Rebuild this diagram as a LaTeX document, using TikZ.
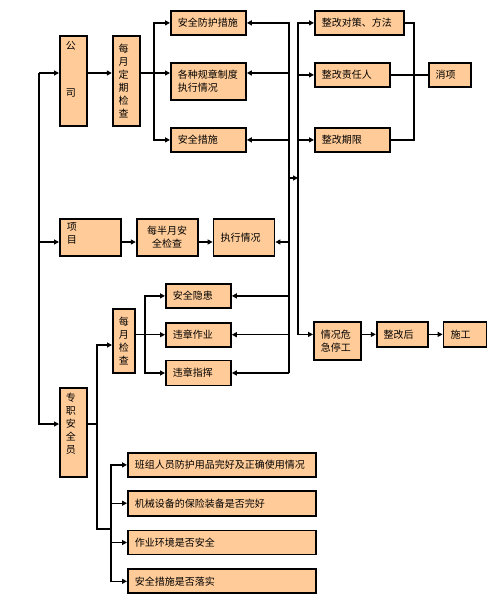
\documentclass[tikz,border=0pt]{standalone}
\usepackage{fontspec}
\usetikzlibrary{positioning,arrows.meta}
\newfontfamily\cjk{Noto Sans CJK SC}
\definecolor{peach}{HTML}{FFCC99}
\definecolor{ink}{HTML}{000000}
\newcommand{\zt}{\cjk\fontsize{10pt}{13pt}\selectfont}
\tikzset{
  box/.style={draw=ink, line width=1.8pt, fill=peach, anchor=north west,
    align=left, inner xsep=7pt, inner ysep=2pt, text=ink},
  col/.style={box, inner xsep=6pt},   % 竖排的框
  arr/.style={-{Triangle[length=5pt,width=5pt]}, line width=1.2pt, color=ink},
  ln/.style={line width=1.2pt, color=ink},
}

\begin{document}
\begin{tikzpicture}[x=1pt, y=-1pt, font=\zt]
  \useasboundingbox (0,0) rectangle (501,611);
  % 公司
  \node[col, text width=15pt, minimum height=90pt] (gs) at (59,35) {公\\[34pt]司\\[10pt]\mbox{}};
  \node[col, text width=15pt, minimum height=90pt, right=24pt of gs] (yd) {每\\月\\定\\期\\检\\查};
  \node[box, text width=61pt, minimum height=24pt] (fh) at (170,10) {安全防护措施};
  \node[box, text width=61pt, minimum height=37pt] (gz) at (170,62) {各种规章制度\\执行情况};
  \node[box, text width=61pt, minimum height=24pt] (cs) at (170,127) {安全措施};
  \node[box, text width=75pt, minimum height=24pt] (dc) at (314,10) {整改对策、方法};
  \node[box, text width=61pt, minimum height=24pt] (zr) at (314,62) {整改责任人};
  \node[box, text width=61pt, minimum height=24pt] (qx) at (314,127) {整改期限};
  \node[box, text width=28pt, minimum height=24pt, right=37pt of zr] (xx) {消项};
  % 项目
  \node[box, text width=47pt, minimum height=37pt] (xm) at (59,218) {项\\目\\[-5pt]\mbox{}};
  \node[box, text width=47pt, minimum height=37pt, align=center, right=14pt of xm] (bj) {每半月安\\全检查};
  \node[box, text width=47pt, minimum height=37pt, right=14pt of bj] (zx) {执行情况};
  % 专职安全员
  \node[col, text width=10pt, minimum height=64pt, align=center] (yj) at (112,308) {每\\月\\检\\查};
  \node[box, text width=51pt, minimum height=24pt] (yh) at (165,283) {安全隐患};
  \node[box, text width=51pt, minimum height=24pt, below=13pt of yh] (wz) {违章作业};
  \node[box, text width=51pt, minimum height=25pt, below=12pt of wz] (wh) {违章指挥};
  \node[box, text width=33pt, minimum height=38pt] (wj) at (313,321) {情况危\\急停工};
  \node[box, text width=37pt, minimum height=25pt, right=14pt of wj.north east, anchor=north west] (zh) {整改后};
  \node[box, text width=29pt, minimum height=25pt, right=14pt of zh] (sg) {施工};
  \node[col, text width=15pt, minimum height=89pt] (zy) at (59,387) {专\\职\\安\\全\\员\\[6pt]\mbox{}};
  \node[box, text width=174pt, minimum height=24pt] (k1) at (127,452) {班组人员防护用品完好及正确使用情况};
  \node[box, text width=174pt, minimum height=25pt, below=12pt of k1] (k2) {机械设备的保险装备是否完好};
  \node[box, text width=174pt, minimum height=24pt, below=13pt of k2] (k3) {作业环境是否安全};
  \node[box, text width=174pt, minimum height=24pt, below=13pt of k3] (k4) {安全措施是否落实};

  \coordinate (tr) at (39,73);
  \coordinate (xmr) at (0,242);
  \coordinate (zyr) at (0,424);
  \coordinate (yjr) at (0,345);
  \coordinate (mr) at (0,178);
  \coordinate (kr) at (0,529);
  \coordinate (b1) at (154,0);
  \coordinate (b2) at (145,0);
  \coordinate (b3) at (97,0);
  \coordinate (b4) at (111,0);
  \coordinate (bl) at (289,0);
  \coordinate (br) at (298,0);
  \coordinate (c1) at (414,0);

  % 主干
  \draw[arr] (tr) -- (gs.west |- tr);
  \draw[arr] (tr |- xmr) -- (xm.west |- xmr);
  \draw[arr] (tr) -- (tr |- zyr) -- (zy.west |- zyr);
  \draw[arr] (gs.east |- tr) -- (yd.west |- tr);
  \draw[ln] (yd.east |- tr) -- (b1 |- tr);
  \draw[arr] (b1 |- tr) |- (fh.west);
  \draw[arr] (b1 |- tr) -- (gz.west |- tr);
  \draw[arr] (b1 |- tr) |- (cs.west);
  \draw[arr] (xm.east |- xmr) -- (bj.west |- xmr);
  \draw[arr] (bj.east |- xmr) -- (zx.west |- xmr);
  \draw[arr] (zy.east |- zyr) -- (b3 |- zyr) -- (b3 |- yjr) -- (yj.west |- yjr);
  \draw[ln] (b3 |- zyr) -- (b3 |- kr) -- (b4 |- kr);
  \draw[arr] (b4 |- kr) |- (k1.west);
  \draw[arr] (b4 |- k2) -- (k2.west);
  \draw[arr] (b4 |- k3) -- (k3.west);
  \draw[arr] (b4 |- kr) |- (k4.west);
  \draw[ln] (yj.east |- wz) -- (b2 |- wz);
  \draw[arr] (b2 |- wz) |- (yh.west);
  \draw[arr] (b2 |- wz) -- (wz.west);
  \draw[arr] (b2 |- wz) |- (wh.west);
  % 汇总线
  \draw[arr] (bl |- wh) -- (bl |- fh) -- (fh.east);
  \draw[arr] (bl |- tr) -- (gz.east |- tr);
  \draw[arr] (bl |- cs) -- (cs.east);
  \draw[arr] (bl |- xmr) -- (zx.east |- xmr);
  \draw[arr] (bl |- yh) -- (yh.east);
  \draw[arr] (bl |- wz) -- (wz.east);
  \draw[arr] (bl |- wh) -- (wh.east);
  \draw[arr] (bl |- mr) -- (br |- mr);
  \draw[arr] (br |- mr) -- (br |- dc) -- (dc.west);
  \draw[arr] (br |- zr) -- (zr.west);
  \draw[arr] (br |- qx) -- (qx.west);
  \draw[arr] (br |- mr) -- (br |- zh) -- (wj.west |- zh);
  \draw[arr] (wj.east |- zh) -- (zh);
  \draw[arr] (zh) -- (sg);
  % 消项
  \draw[ln] (dc.east) -| (c1 |- qx) -- (qx.east);
  \draw[ln] (zr) -- (xx);
\end{tikzpicture}
\end{document}
